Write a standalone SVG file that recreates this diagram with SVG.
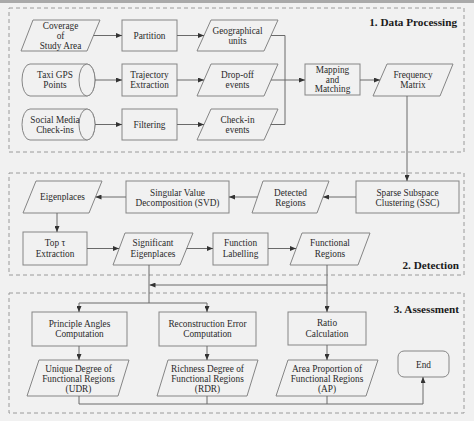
<svg xmlns="http://www.w3.org/2000/svg" width="474" height="421" viewBox="0 0 474 421">
<style>
.bg{fill:#f1f1f1}
.sec{fill:none;stroke:#9a9a9a;stroke-width:1;stroke-dasharray:4 3}
.box{fill:#f1f1f1;stroke:#858585;stroke-width:1}
.t{font-family:"Liberation Serif","Times New Roman",serif;font-size:9.3px;fill:#2a2a2a;text-anchor:middle}
.h{font-family:"Liberation Serif","Times New Roman",serif;font-size:11.2px;font-weight:bold;fill:#1a1a1a;text-anchor:end}
.c path{fill:none;stroke:#6a6a6a;stroke-width:1}
</style>
<defs>
<marker id="a" markerWidth="6" markerHeight="5" refX="6" refY="2.5" orient="auto" markerUnits="userSpaceOnUse">
<path d="M0,0 L6,2.5 L0,5 z" fill="#333"/>
</marker>
</defs>
<rect class="bg" x="0" y="0" width="474" height="421"/>
<rect x="0" y="0" width="474" height="3" fill="#a9a9a9"/>
<g id="sections">
<rect class="sec" x="9" y="8" width="455" height="144"/>
<rect class="sec" x="9" y="173" width="455" height="102"/>
<rect class="sec" x="9" y="293" width="455" height="120"/>
<text class="h" x="457" y="26">1. Data Processing</text>
<text class="h" x="459" y="269">2. Detection</text>
<text class="h" x="459" y="313">3. Assessment</text>
</g>
<g id="coverage"><polygon class="box" points="33,20 100,20 87,51 21,51"/><text class="t" x="60.5" y="28.5">Coverage</text><text class="t" x="60.5" y="38.5">of</text><text class="t" x="60.5" y="48.5">Study Area</text></g>
<g id="partition"><rect class="box" x="122" y="20" width="55" height="31"/><text class="t" x="149.5" y="38.5">Partition</text></g>
<g id="geo"><polygon class="box" points="211,20 278,20 264,51 197,51"/><text class="t" x="237.5" y="33.5">Geographical</text><text class="t" x="237.5" y="43.5">units</text></g>
<g id="taxi"><path class="box" d="M30,64 H87 A8,16 0 0 1 87,96 H30 A8,16 0 0 1 30,64 Z"/><ellipse class="box" cx="87" cy="80" rx="8" ry="16"/><text class="t" x="55" y="78">Taxi GPS</text><text class="t" x="55" y="88">Points</text></g>
<g id="trajectory"><rect class="box" x="122" y="64" width="55" height="32"/><text class="t" x="149.5" y="78">Trajectory</text><text class="t" x="149.5" y="88">Extraction</text></g>
<g id="dropoff"><polygon class="box" points="211,64 278,64 264,96 197,96"/><text class="t" x="237.5" y="78">Drop-off</text><text class="t" x="237.5" y="88">events</text></g>
<g id="social"><path class="box" d="M30,109 H87 A8,15.5 0 0 1 87,140 H30 A8,15.5 0 0 1 30,109 Z"/><ellipse class="box" cx="87" cy="124.5" rx="8" ry="15.5"/><text class="t" x="55" y="122.5">Social Media</text><text class="t" x="55" y="132.5">Check-ins</text></g>
<g id="filtering"><rect class="box" x="122" y="109" width="55" height="31"/><text class="t" x="149.5" y="127.5">Filtering</text></g>
<g id="checkin"><polygon class="box" points="211,109 278,109 264,140 197,140"/><text class="t" x="237.5" y="122.5">Check-in</text><text class="t" x="237.5" y="132.5">events</text></g>
<g id="mapping"><rect class="box" x="305" y="64" width="55" height="31"/><text class="t" x="332.5" y="73">Mapping</text><text class="t" x="332.5" y="82.5">and</text><text class="t" x="332.5" y="92">Matching</text></g>
<g id="frequency"><polygon class="box" points="387,64 453,64 440,96 373,96"/><text class="t" x="413" y="78">Frequency</text><text class="t" x="413" y="88">Matrix</text></g>
<g id="ssc"><rect class="box" x="356" y="181" width="103" height="32"/><text class="t" x="407.5" y="195.5">Sparse Subspace</text><text class="t" x="407.5" y="205.5">Clustering (SSC)</text></g>
<g id="detected"><polygon class="box" points="263,181 329,181 317,213 252,213"/><text class="t" x="290.5" y="195.5">Detected</text><text class="t" x="290.5" y="205.5">Regions</text></g>
<g id="svd"><rect class="box" x="126" y="181" width="103" height="32"/><text class="t" x="177.5" y="195.5">Singular Value</text><text class="t" x="177.5" y="205.5">Decomposition  (SVD)</text></g>
<g id="eigen"><polygon class="box" points="36,181 102,181 89,213 23,213"/><text class="t" x="62.5" y="199.5">Eigenplaces</text></g>
<g id="topt"><rect class="box" x="23" y="232" width="64" height="33"/><text class="t" x="55" y="246">Top τ</text><text class="t" x="55" y="256.5">Extraction</text></g>
<g id="significant"><polygon class="box" points="125,233 193,233 180,265 113,265"/><text class="t" x="153" y="246">Significant</text><text class="t" x="153" y="256.5">Eigenplaces</text></g>
<g id="labelling"><rect class="box" x="213" y="233" width="55" height="32"/><text class="t" x="240.5" y="246">Function</text><text class="t" x="240.5" y="256.5">Labelling</text></g>
<g id="functional"><polygon class="box" points="302,233 370,233 358,265 290,265"/><text class="t" x="330" y="246">Functional</text><text class="t" x="330" y="256.5">Regions</text></g>
<g id="principle"><rect class="box" x="32" y="312" width="95" height="34"/><text class="t" x="79.5" y="326.5">Principle Angles</text><text class="t" x="79.5" y="337">Computation</text></g>
<g id="reconstruction"><rect class="box" x="159" y="312" width="97" height="34"/><text class="t" x="207.5" y="326.5">Reconstruction Error</text><text class="t" x="207.5" y="337">Computation</text></g>
<g id="ratio"><rect class="box" x="288" y="312" width="78" height="33"/><text class="t" x="327" y="325.5">Ratio</text><text class="t" x="327" y="337">Calculation</text></g>
<g id="udr"><polygon class="box" points="39,360 129,360 118,396 27,396"/><text class="t" x="78.5" y="371.5">Unique Degree of</text><text class="t" x="78.5" y="382">Functional Regions</text><text class="t" x="78.5" y="392">(UDR)</text></g>
<g id="rdr"><polygon class="box" points="168,360 258,360 247,396 157,396"/><text class="t" x="207.5" y="371.5">Richness Degree of</text><text class="t" x="207.5" y="382">Functional Regions</text><text class="t" x="207.5" y="392">(RDR)</text></g>
<g id="ap"><polygon class="box" points="288,360 378,360 366,396 276,396"/><text class="t" x="327" y="371.5">Area Proportion of</text><text class="t" x="327" y="382">Functional Regions</text><text class="t" x="327" y="392">(AP)</text></g>
<g id="end"><rect class="box" x="398" y="351" width="51" height="26" rx="6"/><text class="t" x="423.5" y="367.5">End</text></g>
<g id="connectors" class="c">
<path d="M93.5,35.5 H122" marker-end="url(#a)"/>
<path d="M177,35.5 H204" marker-end="url(#a)"/>
<path d="M95,80 H122" marker-end="url(#a)"/>
<path d="M177,80 H204" marker-end="url(#a)"/>
<path d="M95,124.5 H122" marker-end="url(#a)"/>
<path d="M177,124.5 H204" marker-end="url(#a)"/>
<path d="M271,35.5 H285 V124.5 H270.5"/>
<path d="M271,80 H305" marker-end="url(#a)"/>
<path d="M360,80 H380" marker-end="url(#a)"/>
<path d="M407,96 V181" marker-end="url(#a)"/>
<path d="M356,197 H323" marker-end="url(#a)"/>
<path d="M257.5,197 H229" marker-end="url(#a)"/>
<path d="M126,197 H95.5" marker-end="url(#a)"/>
<path d="M57,213 V232" marker-end="url(#a)"/>
<path d="M87,248.5 H119" marker-end="url(#a)"/>
<path d="M186.5,248.5 H213" marker-end="url(#a)"/>
<path d="M268,248.5 H296" marker-end="url(#a)"/>
<path d="M327,265 V312" marker-end="url(#a)"/>
<path d="M327,285 H149.5" marker-end="url(#a)"/>
<path d="M149,265 V303"/>
<path d="M79,303 H207"/>
<path d="M79,303 V312" marker-end="url(#a)"/>
<path d="M207,303 V312" marker-end="url(#a)"/>
<path d="M79,346 V360" marker-end="url(#a)"/>
<path d="M207,346 V360" marker-end="url(#a)"/>
<path d="M327,345 V360" marker-end="url(#a)"/>
<path d="M79,396 V404 H423 V377" marker-end="url(#a)"/>
<path d="M207,396 V404"/>
<path d="M327,396 V404"/>
</g>
</svg>
